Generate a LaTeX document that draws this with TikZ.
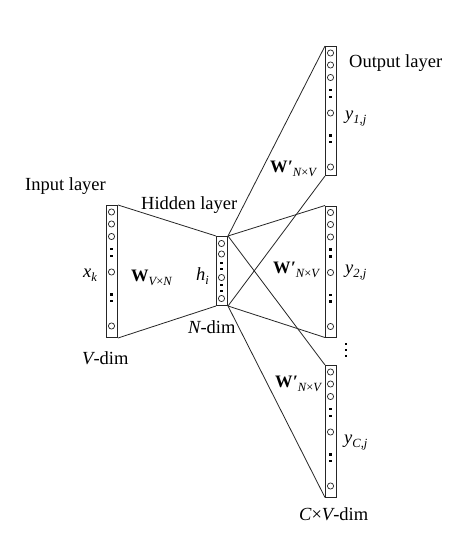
\documentclass[tikz,border=0pt]{standalone}
\usepackage{fontspec}
\setmainfont{Liberation Serif}
\newcommand\fsz[1]{\fontsize{#1}{#1}\selectfont}
\newcommand\lowsub[1]{\raisebox{-4pt}{\fsz{12.5}\itshape #1}}
\newcommand\boldW{{\bfseries W}}
\newcommand\primeW{{\bfseries W\kern0.3pt ′}}
\begin{document}
\begin{tikzpicture}[x=1pt,y=-1pt,
  layerbox/.style={draw=black!85,line width=1pt,inner sep=0pt,minimum width=11pt,anchor=north west},
  unit/.style={draw=black!85,line width=0.7pt},
  conn/.style={draw=black!85,line width=0.8pt},
  lbl/.style={anchor=base west,inner sep=0pt,font=\fsz{18.5}}]
\path[use as bounding box,fill=white] (0,0) rectangle (452,553);

% layer boxes
\node[layerbox,minimum height=132pt] (inp) at (106,205) {};
\node[layerbox,minimum height=69pt] (hid) at (216,236) {};
\node[layerbox,minimum height=129pt] (outa) at (325,46) {};
\node[layerbox,minimum height=131pt] (outb) at (325,205.5) {};
\node[layerbox,minimum height=131.5pt] (outc) at (325,365) {};

% units in the input and output columns
\foreach \cx/\ty in {111.5/205, 330.5/46, 330.5/205.5, 330.5/365}{
  \foreach \o in {7,19,31.5,67,121}{\draw[unit] (\cx,\ty+\o) circle (3.1pt);}
  \foreach \o in {44,51,89.5,96}{\fill[black] (\cx-1.1,\ty+\o-1.1) rectangle ++(2.2,2.2);}
}
% units in the hidden column
\foreach \o in {7.5,18,41.5,62.5}{\draw[unit] (221.5,236+\o) circle (3.1pt);}
\foreach \o in {27,33,49,55}{\fill[black] (221.5-1.1,236+\o-1.1) rectangle ++(2.2,2.2);}

% vertical ellipsis between output columns
\foreach \yy in {344,350,356}{\fill[black] (346-1.2,\yy-1.2) rectangle ++(2.4,2.4);}

% connectors
\draw[conn] (inp.north east) -- (hid.north west);
\draw[conn] (inp.south east) -- (hid.south west);
\foreach \o in {outa,outb,outc}{
  \draw[conn] (hid.north east) -- (\o.north west);
  \draw[conn] (hid.south east) -- (\o.south west);
}

% labels
\node[lbl] (tin) at (25,190.7) {Input layer};
\node[lbl] (thid) at (141,209) {Hidden layer};
\node[lbl] (tout) at (349,68) {Output layer};
\node[lbl] (txk) at (83,277) {\itshape x\lowsub{k}};
\node[lbl] (tw) at (131,281) {\fsz{17.5}\boldW\lowsub{V\upshape×\itshape N}};
\node[lbl] (thi) at (196,280) {\itshape h\lowsub{i}};
\node[lbl] (tvdim) at (82,364) {\itshape V\upshape-dim};
\node[lbl] (tndim) at (188,333) {\itshape N\upshape-dim};
\node[lbl] (twa) at (270,173) {\fsz{17.5}\primeW\lowsub{N\upshape×\itshape V}};
\node[lbl] (twb) at (273,273) {\fsz{17.5}\primeW\lowsub{N\upshape×\itshape V}};
\node[lbl] (twc) at (275,387) {\fsz{17.5}\primeW\lowsub{N\upshape×\itshape V}};
\node[lbl] (tya) at (345,120) {\itshape y\lowsub{1,j}};
\node[lbl] (tyb) at (345,273) {\itshape y\lowsub{2,j}};
\node[lbl] (tyc) at (344,443) {\itshape y\lowsub{C,j}};
\node[lbl] (tcv) at (299,520) {\itshape C\upshape×\itshape V\upshape-dim};
\end{tikzpicture}
\end{document}
